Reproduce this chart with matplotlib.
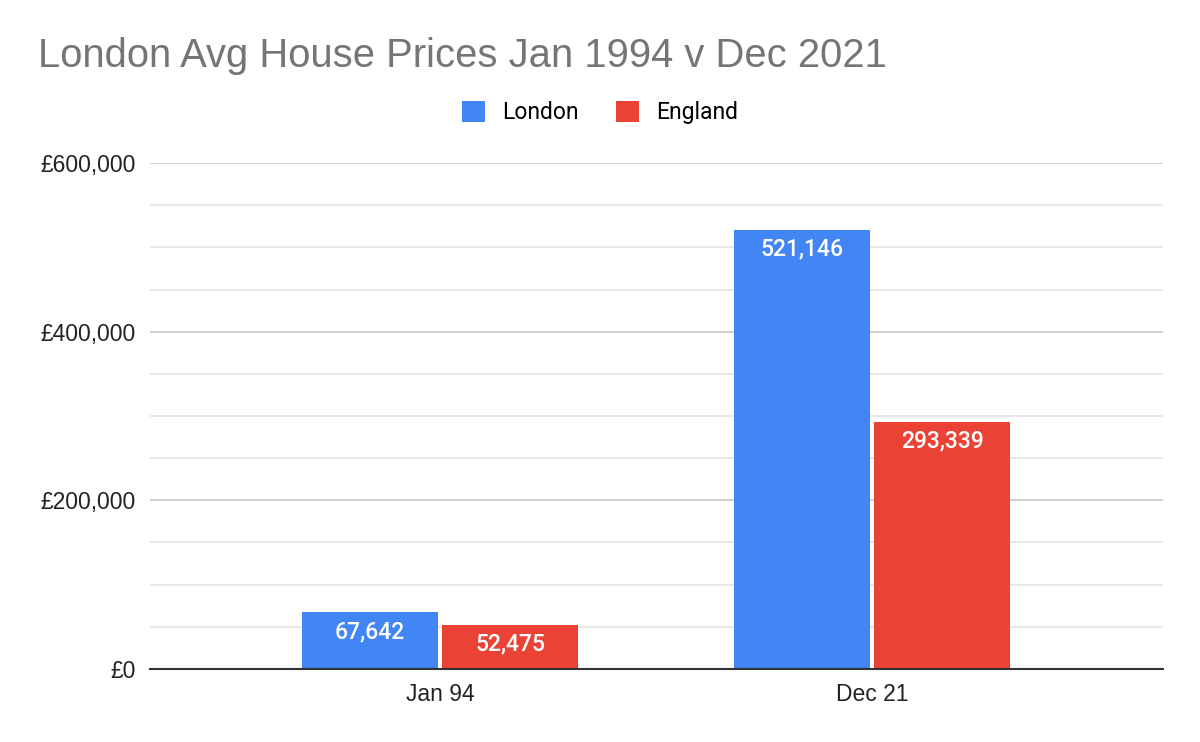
import matplotlib.pyplot as plt
import numpy as np
from matplotlib.ticker import MultipleLocator, FuncFormatter

categories = ["Jan 94", "Dec 21"]
series = ["London", "England"]
london = [67642, 521146]
england = [52475, 293339]
colors = ["#4285f4", "#ea4335"]

fig = plt.figure(figsize=(12, 7.42), dpi=100)
ax = fig.add_axes([0.125, 0.0984, 0.8442, 0.6819])

x = np.arange(len(categories))
w = 0.315
gap = 0.005
b1 = ax.bar(x - w / 2 - gap, london, w, color=colors[0], label=series[0], zorder=3)
b2 = ax.bar(x + w / 2 + gap, england, w, color=colors[1], label=series[1], zorder=3)

for bars, vals in [(b1, london), (b2, england)]:
    for r, v in zip(bars, vals):
        ax.annotate(f"{v:,}", (r.get_x() + r.get_width() / 2, v),
                    xytext=(0, -14), textcoords="offset points",
                    ha="center", va="center", color="white", fontsize=16.5,
                    family="Roboto", weight="medium", zorder=4)

ax.set_xlim(-0.671, 1.674)
ax.set_ylim(0, 600000)
ax.set_xticks(x)
ax.set_xticklabels(categories, family="Liberation Sans", fontsize=16.5, color="#222222")
ax.yaxis.set_major_locator(MultipleLocator(200000))
ax.yaxis.set_minor_locator(MultipleLocator(50000))
ax.yaxis.set_major_formatter(FuncFormatter(lambda v, p: f"£{int(v):,}"))
for lab in ax.get_yticklabels():
    lab.set_family("Liberation Sans")
    lab.set_fontsize(16.5)
    lab.set_color("#222222")
ax.tick_params(axis="both", length=0, pad=10)
ax.tick_params(axis="y", which="minor", length=0)
ax.tick_params(axis="x", pad=10)
ax.grid(axis="y", which="major", color="#cccccc", linewidth=1.3, zorder=0)
ax.grid(axis="y", which="minor", color="#e6e6e6", linewidth=1.3, zorder=0)
for s in ["top", "right", "left"]:
    ax.spines[s].set_visible(False)
ax.spines["bottom"].set_color("#333333")
ax.spines["bottom"].set_linewidth(1.5)
ax.spines["bottom"].set_zorder(5)

fig.text(0.032, 0.925, "London Avg House Prices Jan 1994 v Dec 2021",
         fontsize=28.8, color="#757575", family="Liberation Sans", va="center")
fig.legend(loc="center", bbox_to_anchor=(0.5, 0.848), ncol=2, frameon=False,
           prop={"family": "Roboto", "size": 16.5}, handlelength=1.0,
           handleheight=1.0, columnspacing=1.6, handletextpad=0.75)

fig.savefig("out.png", dpi=100)
